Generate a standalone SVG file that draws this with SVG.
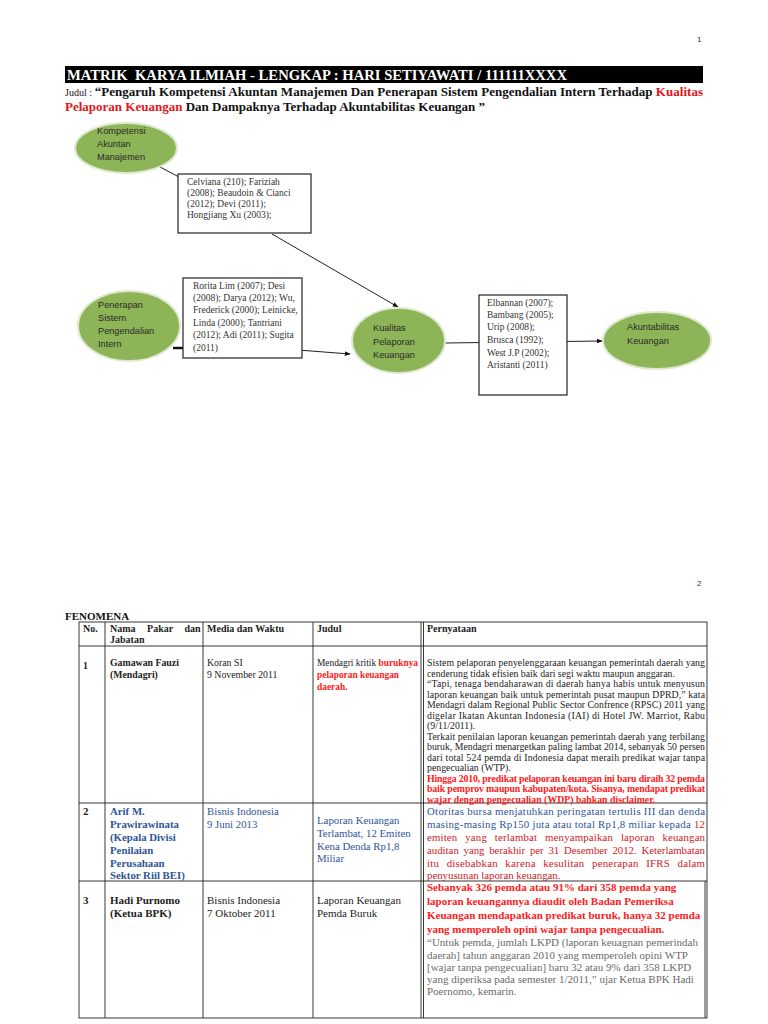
<svg xmlns="http://www.w3.org/2000/svg" width="768" height="1024" viewBox="0 0 768 1024">
<style>
.serif{font-family:"Liberation Serif","Times New Roman",serif;}
.sans{font-family:"Liberation Sans",Arial,sans-serif;}
.pg{font-family:"Liberation Sans",Arial,sans-serif;font-size:8px;fill:#333;}
.ell{fill:#8db456;stroke:#dde8cf;stroke-width:2;}
.etx{font-family:"Liberation Sans",Arial,sans-serif;font-size:9.2px;fill:#2a2a2a;}
.box{fill:#fff;stroke:#222;stroke-width:1.2;}
.btx{font-family:"Liberation Serif","Times New Roman",serif;font-size:9.5px;fill:#333;}
.con{stroke:#222;stroke-width:1;fill:none;}
.tl{stroke:#222;stroke-width:0.9;fill:none;}
.hd{font-family:"Liberation Serif","Times New Roman",serif;font-size:10px;font-weight:bold;fill:#222;}
.r1{font-family:"Liberation Serif","Times New Roman",serif;font-size:9.8px;fill:#222;}
.r1s{font-family:"Liberation Serif","Times New Roman",serif;font-size:9.4px;fill:#222;}
.r2{font-family:"Liberation Serif","Times New Roman",serif;font-size:10.8px;fill:#2f5597;}
.r3{font-family:"Liberation Serif","Times New Roman",serif;font-size:11px;fill:#222;}
.red{fill:#ff1a1a;font-weight:bold;}
.dred{fill:#d0201e;}
.gray{fill:#6b6b6b;}
.b{font-weight:bold;}
</style>
<defs>
<marker id="arr" viewBox="0 0 10 10" refX="9" refY="5" markerWidth="6" markerHeight="6" orient="auto" markerUnits="userSpaceOnUse"><path d="M0,1 L10,5 L0,9 z" fill="#111"/></marker>
</defs>

<text class="pg" x="697" y="42">1</text>
<text class="pg" x="697" y="586">2</text>

<g id="title">
<rect x="65" y="66" width="638" height="17" fill="#000"/>
<text class="serif" x="67" y="80" font-size="15" font-weight="bold" fill="#fff" textLength="500" lengthAdjust="spacingAndGlyphs" style="white-space:pre">MATRIK  KARYA ILMIAH - LENGKAP : HARI SETIYAWATI / 111111XXXX</text>
<text class="serif" x="65" y="96" font-size="13" font-weight="bold" fill="#111" textLength="638" lengthAdjust="spacing"><tspan font-size="10" font-weight="normal">Judul : </tspan>“Pengaruh Kompetensi Akuntan Manajemen Dan Penerapan Sistem Pengendalian Intern Terhadap <tspan fill="#e3161b">Kualitas</tspan></text>
<text class="serif" x="65" y="111" font-size="13" font-weight="bold" fill="#111"><tspan fill="#e3161b">Pelaporan Keuangan</tspan> Dan Dampaknya Terhadap Akuntabilitas Keuangan ”</text>
</g>

<g id="connectors">
<line class="con" x1="160" y1="167" x2="179" y2="177"/>
<line class="con" x1="272" y1="234" x2="398" y2="307" marker-end="url(#arr)"/>
<line x1="173" y1="348" x2="184" y2="348" stroke="#111" stroke-width="2.5"/>
<line class="con" x1="298" y1="350" x2="350" y2="354" marker-end="url(#arr)"/>
<line class="con" x1="445" y1="343" x2="602" y2="341" marker-end="url(#arr)"/>
</g>

<g id="kompetensi">
<ellipse class="ell" cx="126" cy="148" rx="51" ry="25"/>
<text class="etx" x="97" y="134">Kompetensi</text>
<text class="etx" x="97" y="147">Akuntan</text>
<text class="etx" x="97" y="160">Manajemen</text>
</g>

<g id="ref1">
<rect class="box" x="178" y="174" width="133" height="59"/>
<text class="btx" x="187" y="185">Celviana (210); Fariziah</text>
<text class="btx" x="187" y="196">(2008); Beaudoin &amp; Cianci</text>
<text class="btx" x="187" y="207">(2012); Devi (2011);</text>
<text class="btx" x="187" y="218">Hongjiang Xu (2003);</text>
</g>

<g id="penerapan">
<ellipse class="ell" cx="129" cy="326" rx="51" ry="35"/>
<text class="etx" x="98" y="308">Penerapan</text>
<text class="etx" x="98" y="321">Sistem</text>
<text class="etx" x="98" y="334">Pengendalian</text>
<text class="etx" x="98" y="347">Intern</text>
</g>

<g id="ref2">
<rect class="box" x="183" y="278" width="119" height="80"/>
<text class="btx" x="193" y="289">Rorita Lim (2007); Desi</text>
<text class="btx" x="193" y="301">(2008); Darya (2012); Wu,</text>
<text class="btx" x="193" y="313">Frederick (2000); Leinicke,</text>
<text class="btx" x="193" y="326">Linda (2000); Tantriani</text>
<text class="btx" x="193" y="338">(2012); Adi (2011); Sugita</text>
<text class="btx" x="193" y="351">(2011)</text>
</g>

<g id="ref3">
<rect class="box" x="479" y="295" width="88" height="100"/>
<text class="btx" x="487" y="306">Elbannan (2007);</text>
<text class="btx" x="487" y="318">Bambang (2005);</text>
<text class="btx" x="487" y="330">Urip (2008);</text>
<text class="btx" x="487" y="343">Brusca (1992);</text>
<text class="btx" x="487" y="356">West J.P (2002);</text>
<text class="btx" x="487" y="368">Aristanti (2011)</text>
</g>

<g id="kualitas">
<ellipse class="ell" cx="398.5" cy="340.5" rx="46.5" ry="32.5"/>
<text class="etx" x="373" y="331">Kualitas</text>
<text class="etx" x="373" y="345">Pelaporan</text>
<text class="etx" x="373" y="358">Keuangan</text>
</g>

<g id="akuntabilitas">
<ellipse class="ell" cx="657" cy="340.5" rx="54" ry="28.5"/>
<text class="etx" x="627" y="330">Akuntabilitas</text>
<text class="etx" x="627" y="344">Keuangan</text>
</g>

<g id="fenomena">
<text class="serif" x="65" y="620" font-size="11" font-weight="bold" fill="#111">FENOMENA</text>
<rect class="tl" x="79" y="622" width="628" height="396"/>
<line class="tl" x1="79" y1="646" x2="707" y2="646"/>
<line class="tl" x1="79" y1="803" x2="707" y2="803"/>
<line class="tl" x1="79" y1="881" x2="707" y2="881"/>
<line class="tl" x1="105" y1="622" x2="105" y2="1018"/>
<line class="tl" x1="203" y1="622" x2="203" y2="1018"/>
<line class="tl" x1="313" y1="622" x2="313" y2="1018"/>
<line class="tl" x1="421" y1="622" x2="421" y2="1018"/>
<line class="tl" x1="423.5" y1="622" x2="423.5" y2="1018"/>
<line class="tl" x1="705" y1="881" x2="705" y2="1018"/>

<text class="hd" x="83" y="632">No.</text>
<text class="hd" x="110" y="632" word-spacing="9">Nama Pakar dan</text>
<text class="hd" x="110" y="643">Jabatan</text>
<text class="hd" x="207" y="632">Media dan Waktu</text>
<text class="hd" x="317" y="632">Judul</text>
<text class="hd" x="427" y="632">Pernyataan</text>
</g>

<g id="row1">
<text class="r1 b" x="83" y="669" font-size="11">1</text>
<text class="r1 b" x="110" y="666">Gamawan Fauzi</text>
<text class="r1 b" x="110" y="678">(Mendagri)</text>
<text class="r1" x="207" y="666">Koran SI</text>
<text class="r1" x="207" y="678">9 November 2011</text>
<text class="r1s" x="317" y="666">Mendagri kritik <tspan class="red">buruknya</tspan></text>
<text class="r1s red" x="317" y="678">pelaporan keuangan</text>
<text class="r1s red" x="317" y="690">daerah.</text>
<text class="r1" x="427" y="666" textLength="278" lengthAdjust="spacing">Sistem pelaporan penyelenggaraan keuangan pemerintah daerah yang</text>
<text class="r1" x="427" y="676.5">cenderung tidak efisien baik dari segi waktu maupun anggaran.</text>
<text class="r1" x="427" y="687" textLength="278" lengthAdjust="spacing">“Tapi, tenaga bendaharawan di daerah hanya habis untuk menyusun</text>
<text class="r1" x="427" y="697.5" textLength="278" lengthAdjust="spacing">laporan keuangan baik untuk pemerintah pusat maupun DPRD,” kata</text>
<text class="r1" x="427" y="708" textLength="278" lengthAdjust="spacing">Mendagri dalam Regional Public Sector Confrence (RPSC) 2011 yang</text>
<text class="r1" x="427" y="718.5" textLength="278" lengthAdjust="spacing">digelar Ikatan Akuntan Indonesia (IAI) di Hotel JW. Marriot, Rabu</text>
<text class="r1" x="427" y="729">(9/11/2011).</text>
<text class="r1" x="427" y="739.5" textLength="278" lengthAdjust="spacing">Terkait penilaian laporan keuangan pemerintah daerah yang terbilang</text>
<text class="r1" x="427" y="750" textLength="278" lengthAdjust="spacing">buruk, Mendagri menargetkan paling lambat 2014, sebanyak 50 persen</text>
<text class="r1" x="427" y="760.5" textLength="278" lengthAdjust="spacing">dari total 524 pemda di Indonesia dapat meraih predikat wajar tanpa</text>
<text class="r1" x="427" y="771">pengecualian (WTP).</text>
<text class="r1 red" x="427" y="781.5" textLength="278" lengthAdjust="spacing">Hingga 2010, predikat pelaporan keuangan ini baru diraih 32 pemda</text>
<text class="r1 red" x="427" y="792" textLength="278" lengthAdjust="spacing">baik pemprov maupun kabupaten/kota. Sisanya, mendapat predikat</text>
<text class="r1 red" x="427" y="802.5">wajar dengan pengecualian (WDP) bahkan disclaimer.</text>
</g>

<g id="row2">
<text class="r3 b" x="83" y="815">2</text>
<text class="r2 b" x="110" y="815">Arif M.</text>
<text class="r2 b" x="110" y="828">Prawirawinata</text>
<text class="r2 b" x="110" y="841">(Kepala Divisi</text>
<text class="r2 b" x="110" y="854">Penilaian</text>
<text class="r2 b" x="110" y="867">Perusahaan</text>
<text class="r2 b" x="110" y="879">Sektor Riil BEI)</text>
<text class="r2" x="207" y="815">Bisnis Indonesia</text>
<text class="r2" x="207" y="828">9 Juni 2013</text>
<text class="r2" x="317" y="824">Laporan Keuangan</text>
<text class="r2" x="317" y="837">Terlambat, 12 Emiten</text>
<text class="r2" x="317" y="850">Kena Denda Rp1,8</text>
<text class="r2" x="317" y="862">Miliar</text>
<text class="r2" x="427" y="815" textLength="278" lengthAdjust="spacing">Otoritas bursa menjatuhkan peringatan tertulis III dan denda</text>
<text class="r2" x="427" y="828" textLength="278" lengthAdjust="spacing">masing-masing Rp150 juta atau total Rp1,8 miliar kepada <tspan class="dred">12</tspan></text>
<text class="r2 dred" x="427" y="841" word-spacing="5" textLength="278" lengthAdjust="spacing">emiten yang terlambat menyampaikan laporan keuangan</text>
<text class="r2 dred" x="427" y="854" word-spacing="2" textLength="278" lengthAdjust="spacing">auditan yang berakhir per 31 Desember 2012. Keterlambatan</text>
<text class="r2 dred" x="427" y="867" word-spacing="4.5" textLength="278" lengthAdjust="spacing">itu disebabkan karena kesulitan penerapan IFRS dalam</text>
<text class="r2 dred" x="427" y="879">penyusunan laporan keuangan.</text>
</g>

<g id="row3">
<text class="r3 b" x="83" y="904">3</text>
<text class="r3 b" x="110" y="904">Hadi Purnomo</text>
<text class="r3 b" x="110" y="917">(Ketua BPK)</text>
<text class="r3" x="207" y="904">Bisnis Indonesia</text>
<text class="r3" x="207" y="917">7 Oktober 2011</text>
<text class="r3" x="317" y="904">Laporan Keuangan</text>
<text class="r3" x="317" y="917">Pemda Buruk</text>
<text class="r3 red" x="427" y="891">Sebanyak 326 pemda atau 91% dari 358 pemda yang</text>
<text class="r3 red" x="427" y="905">laporan keuangannya diaudit oleh Badan Pemeriksa</text>
<text class="r3 red" x="427" y="919">Keuangan mendapatkan predikat buruk, hanya 32 pemda</text>
<text class="r3 red" x="427" y="933">yang memperoleh opini wajar tanpa pengecualian.</text>
<text class="r3 gray" x="427" y="946">“Untuk pemda, jumlah LKPD (laporan keuagnan pemerindah</text>
<text class="r3 gray" x="427" y="959">daerah] tahun anggaran 2010 yang memperoleh opini WTP</text>
<text class="r3 gray" x="427" y="971">[wajar tanpa pengecualian] baru 32 atau 9% dari 358 LKPD</text>
<text class="r3 gray" x="427" y="983">yang diperiksa pada semester 1/2011,” ujar Ketua BPK Hadi</text>
<text class="r3 gray" x="427" y="995">Poernomo, kemarin.</text>
</g>
</svg>
